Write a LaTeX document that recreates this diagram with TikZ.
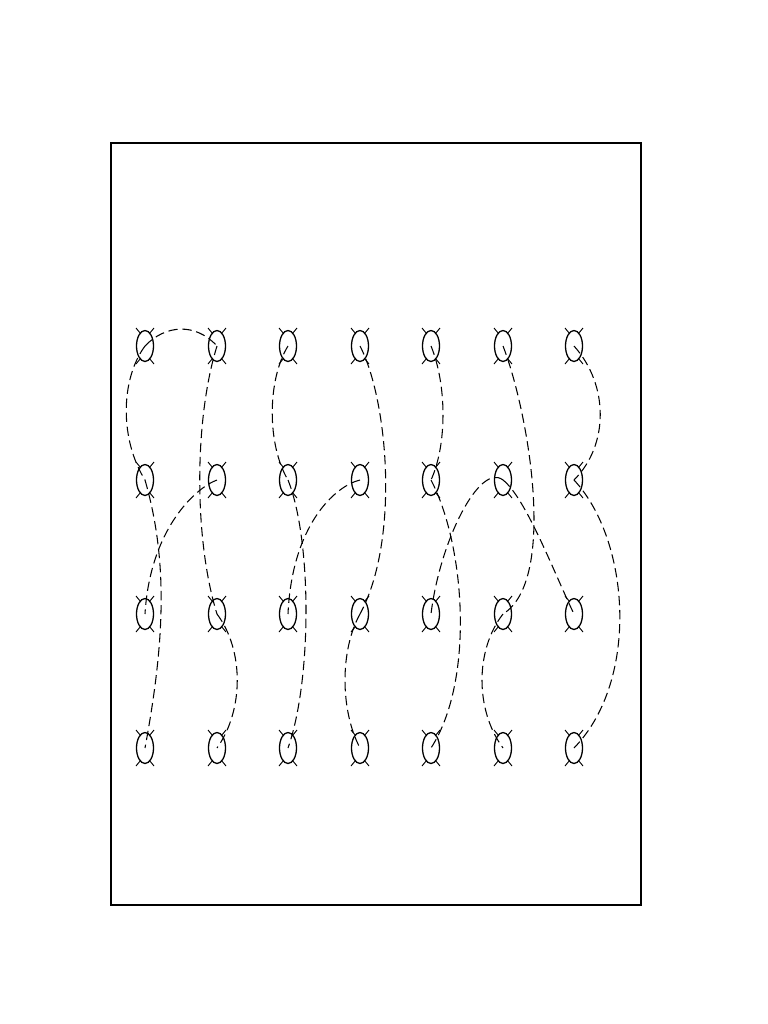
\documentclass[tikz,border=0pt]{standalone}
\usetikzlibrary{shapes.geometric}

\begin{document}
\begin{tikzpicture}[x=0.03cm, y=-0.03cm,
    site/.style={ellipse, draw, line width=1.1pt, minimum width=0.51cm, minimum height=0.93cm, inner sep=0pt},
    leg/.style={line width=0.8pt},
    strand/.style={dashed, dash pattern=on 8pt off 4pt, line width=0.9pt}]
    \useasboundingbox (0,0) rectangle (768,1024);

    % Frame
    \draw[line width=1.1pt] (111,143) rectangle (641,905);

    % Sites - 7 columns, 4 rows
    \foreach \c/\x in {1/145,2/217,3/288,4/360,5/431,6/503,7/574}{
        \foreach \r/\y in {1/346,2/480,3/614,4/748}{
            \node[site] (s\c\r) at (\x,\y) {};
            \draw[leg] (\x-4.5,\y-12.5) -- (\x-9,\y-18);
            \draw[leg] (\x+4.5,\y-12.5) -- (\x+9,\y-18);
            \draw[leg] (\x-4.5,\y+12.5) -- (\x-9,\y+18);
            \draw[leg] (\x+4.5,\y+12.5) -- (\x+9,\y+18);
        }
    }

    % Strands - columns 1 and 2
    \draw[strand] (s11.center) .. controls (165,325) and (195,322) .. (s21.center);
    \draw[strand] (s11.center) .. controls (120,380) and (120,440) .. (s12.center);
    \draw[strand] (s21.center) .. controls (194,420) and (194,540) .. (s23.center);
    \draw[strand] (s12.center) .. controls (168,560) and (165,640) .. (s14.center);
    \draw[strand] (s22.center) .. controls (195,488) and (150,530) .. (s13.center);
    \draw[strand] (s23.center) .. controls (244,650) and (244,710) .. (s24.center);

    % Strands - columns 3 and 4
    \draw[strand] (s31.center) .. controls (267,380) and (267,445) .. (s32.center);
    \draw[strand] (s41.center) .. controls (388,400) and (400,540) .. (s43.center);
    \draw[strand] (s32.center) .. controls (312,540) and (312,680) .. (s34.center);
    \draw[strand] (s42.center) .. controls (335,486) and (292,525) .. (s33.center);
    \draw[strand] (s43.center) .. controls (340,650) and (340,710) .. (s44.center);

    % Strands - columns 5 to 7
    \draw[strand] (s51.center) .. controls (447,385) and (447,445) .. (s52.center);
    \draw[strand] (s61.center) .. controls (528,410) and (558,580) .. (s63.center);
    \draw[strand] (s71.center) .. controls (609,385) and (609,445) .. (s72.center);
    \draw[strand] (s52.center) .. controls (465,545) and (475,680) .. (s54.center);
    \draw[strand] (s62.center) .. controls (480,462) and (440,540) .. (s53.center);
    \draw[strand] (s62.center) .. controls (526,498) and (555,575) .. (s73.center);
    \draw[strand] (s63.center) .. controls (475,650) and (475,710) .. (s64.center);
    \draw[strand] (s72.center) .. controls (630,540) and (640,680) .. (s74.center);
\end{tikzpicture}
\end{document}
